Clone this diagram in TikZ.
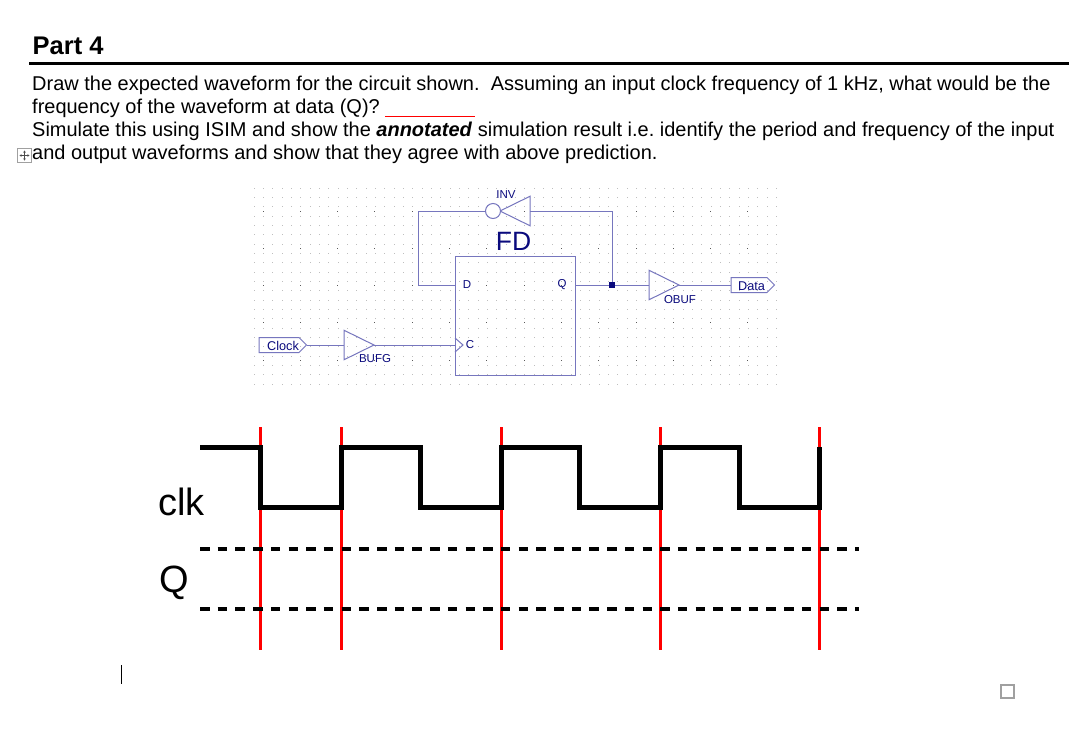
\documentclass[tikz,border=0pt]{standalone}
\usepackage{fontspec}
\setmainfont{Liberation Sans}
\usetikzlibrary{shapes.geometric,shapes.symbols,arrows.meta}
\definecolor{schem}{RGB}{118,118,190}
\definecolor{navytxt}{RGB}{10,10,125}
\definecolor{dotgray}{RGB}{190,190,190}
\definecolor{handle}{RGB}{160,160,160}
\tikzset{
  x=1pt,y=-1pt,
  qline/.style={anchor=base west,inner sep=0pt,font=\fontsize{19.98}{23}\selectfont\frenchspacing},
  wire/.style={draw=schem,line width=1pt},
  bufbox/.style={draw=schem,line width=1pt,shape=isosceles triangle,isosceles triangle stretches=true,
     minimum width=29.5pt,minimum height=30pt,inner sep=0pt,outer sep=0pt},
  portbox/.style={draw=schem,line width=1pt,shape=signal,signal to=east,signal from=nowhere,signal pointer angle=90,
     minimum height=15pt,inner sep=0pt,outer sep=0pt},
  portlabel/.style={inner sep=0pt,text=navytxt,font=\fontsize{12.7}{14}\selectfont},
  pinlabel/.style={inner sep=0pt,text=navytxt,font=\fontsize{11.5}{13}\selectfont},
  redmark/.style={draw=red,line width=3pt},
  sigline/.style={draw=black,line width=5pt,line join=miter},
  dashline/.style={draw=black,line width=3.2pt,dash pattern=on 9.5pt off 8.2pt},
  siglabel/.style={anchor=base west,inner sep=0pt,font=\fontsize{38}{40}\selectfont},
  graybox/.style={draw=handle,line width=1.3pt,minimum size=13.5pt,inner sep=0pt,outer sep=0pt}
}
\begin{document}
\begin{tikzpicture}
\useasboundingbox[fill=white] (0,0) rectangle (1090,753);
% heading
\node[anchor=base west,inner sep=0pt,font=\fontsize{25.5}{27}\selectfont\bfseries] (title) at (32.5,54) {Part 4};
\draw[line width=3pt] (29,63) coordinate (ruleL) -- (1069,63) coordinate (ruleR);
\node[qline] (l1) at (32,90) {Draw the expected waveform for the circuit shown.\ \ Assuming an input clock frequency of 1 kHz, what would be the};
\node[qline] (l2) at (32,113) {frequency of the waveform at data (Q)?};
\node[qline] (l3) at (32,136) {Simulate this using ISIM and show the \textbf{\textit{annotated}} simulation result i.e. identify the period and frequency of the input};
\node[qline] (l4) at (32,159) {and output waveforms and show that they agree with above prediction.};
\draw[red,line width=1pt] (385,116.5) coordinate (ansL) -- (475,116.5) coordinate (ansR);
% table handle
\node[graybox] (handlebox) at (24.5,155.5) {};
\draw[black!70,line width=.6pt,{Stealth[length=2pt,width=2.5pt]}-{Stealth[length=2pt,width=2.5pt]}] (19.5,155.5) -- (29.5,155.5);
\draw[black!70,line width=.6pt,{Stealth[length=2pt,width=2.5pt]}-{Stealth[length=2pt,width=2.5pt]}] (24.5,150.5) -- (24.5,160.5);
% dot grid
\foreach \i in {0,...,56}{\foreach \j in {0,...,21}{
  \fill[dotgray] (254+\i*9.33-.4,188+\j*9.33-.4) rectangle ++(.8,.8);
}}
\foreach \i in {0,...,13}{\foreach \j in {0,...,4}{
  \fill[black!65] (263+\i*37.3-.5,211+\j*37.3-.5) rectangle ++(1,1);
}}
% schematic
\node[draw=schem,line width=1pt,minimum width=120pt,minimum height=119pt,inner sep=0pt,outer sep=0pt] (fd) at (515,315.5) {};
\coordinate (pinD) at (455,285);
\coordinate (pinC) at (455,345);
\coordinate (pinQ) at (575,285);
\draw[wire] (455,338) -- (463,345) -- (455,352);
\node[pinlabel] (lblD) at (467,285) {D};
\node[pinlabel] (lblC) at (470,345) {C};
\node[pinlabel] (lblQ) at (562,285) {Q};
\node[inner sep=0pt,text=navytxt,font=\fontsize{26.5}{28}\selectfont] (lblFD) at (513.5,241) {FD};
\node[portbox,minimum width=47.5pt,anchor=east] (clock) at (306.5,345) {};
\node[portlabel] (lblclock) at (283,345.5) {Clock};
\node[bufbox,anchor=lower side] (bufg) at (344,345) {};
\node[pinlabel] (lblB) at (375,359) {BUFG};
\draw[wire] (clock.east) -- (bufg.lower side);
\draw[wire] (bufg.apex) -- (pinC);
\node[bufbox,anchor=lower side] (obuf) at (649,285) {};
\node[pinlabel] (lblO) at (680,300) {OBUF};
\node[portbox,minimum width=43.5pt,anchor=east] (data) at (774.5,285) {};
\node[portlabel] (lbldata) at (751.5,286) {Data};
\node[bufbox,shape border rotate=180,anchor=lower side] (inv) at (530,211) {};
\node[circle,draw=schem,line width=1pt,fill=white,minimum size=15pt,inner sep=0pt,outer sep=0pt] (bubble) at (493,211) {};
\node[pinlabel] (lblI) at (506,195) {INV};
\node[fill=navytxt,minimum size=5.5pt,inner sep=0pt] (junc) at (612,285) {};
\draw[wire] (pinQ) -- (junc) -- (obuf.lower side);
\draw[wire] (obuf.apex) -- (data.west);
\draw[wire] (junc) |- (inv.lower side);
\draw[wire] (bubble.west) -| (418,285) -- (pinD);
% waveform
\foreach \x/\n in {260.5/a,341/b,501/c,660/d,819.3/e}{
  \coordinate (t\n) at (\x,427);
  \coordinate (b\n) at (\x,650);
  \draw[redmark] (t\n) -- (b\n);
}
\draw[sigline] (200,447.3) -- (260.5,447.3) -- (260.5,507.3) -- (341,507.3) -- (341,447.3) -- (420.5,447.3) -- (420.5,507.3) -- (501,507.3) -- (501,447.3) -- (579.5,447.3) -- (579.5,507.3) -- (660,507.3) -- (660,447.3) -- (739.5,447.3) -- (739.5,507.3) -- (819.5,507.3) -- (819.5,447.3);
\draw[dashline] (200,549) coordinate (d1a) -- (859,549) coordinate (d1b);
\draw[dashline] (200,609) coordinate (d2a) -- (859,609) coordinate (d2b);
\node[siglabel] (lblclk) at (158,515) {clk};
\node[siglabel] (lblQQ) at (159,592) {Q};
% cursor and check box
\draw[black,line width=1pt] (121,665) coordinate (curT) -- (121,684) coordinate (curB);
\node[graybox,line width=1.7pt] (check) at (1007.5,691.5) {};
\end{tikzpicture}
\end{document}
